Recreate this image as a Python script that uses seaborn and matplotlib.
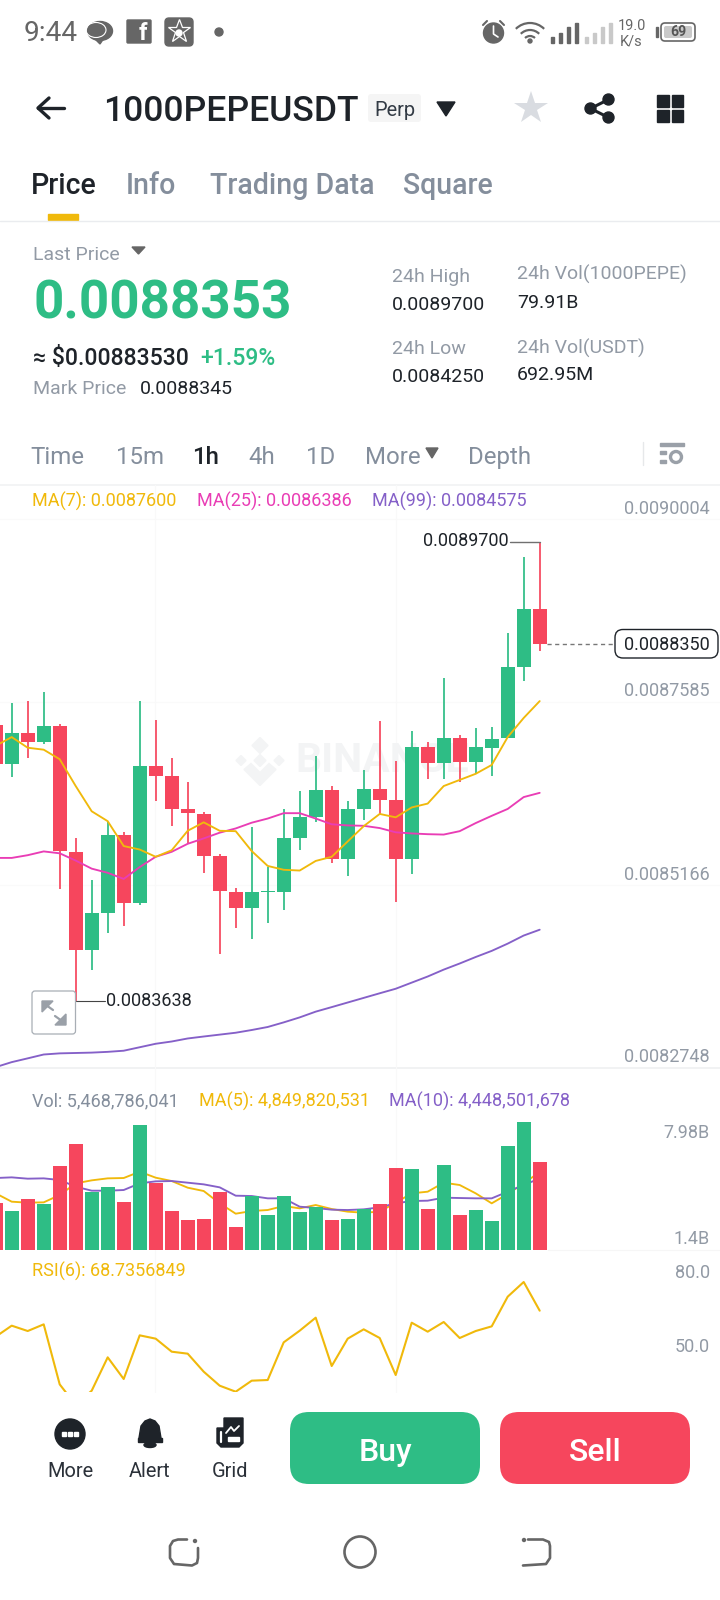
import numpy as np
import pandas as pd
import seaborn as sns
import matplotlib
matplotlib.use("Agg")
import matplotlib.pyplot as plt
from matplotlib.patches import FancyBboxPatch, Polygon, Circle, Ellipse, Rectangle, Arc

sns.set_theme(style="white")
plt.rcParams['font.family'] = ['Roboto', 'DejaVu Sans']

# ---- data (prices in units of 0.001 USDT, volumes in billions) ----
opens = [8.7286,8.6770,8.7175,8.7054,8.7266,8.5606,8.4306,8.4791,8.5829,8.4928,8.6745,8.6613,8.6173,8.6112,8.5550,8.5080,8.4862,8.5070,8.5080,8.5788,8.6067,8.6426,8.5515,8.6173,8.6436,8.6289,8.5505,8.6988,8.6780,8.7114,8.6795,8.6983,8.7109,8.8056,8.8820]
closes = [8.6770,8.7175,8.7054,8.7266,8.5616,8.4306,8.4791,8.5829,8.4928,8.6735,8.6613,8.6178,8.6117,8.5556,8.5085,8.4862,8.5070,8.5090,8.5788,8.6067,8.6426,8.5515,8.6173,8.6436,8.6294,8.5505,8.6988,8.6780,8.7109,8.6795,8.6993,8.7104,8.8056,8.8820,8.8350]
highs = [8.7286,8.7570,8.7600,8.7722,8.7297,8.5793,8.5237,8.6006,8.5869,8.7600,8.7347,8.6846,8.6527,8.6132,8.5581,8.5130,8.5940,8.5409,8.6173,8.6406,8.6871,8.6476,8.6284,8.6689,8.7337,8.6805,8.7205,8.7054,8.7904,8.7155,8.7246,8.7256,8.8506,8.9508,8.9700]
lows = [8.6770,8.6593,8.6851,8.7038,8.5120,8.3638,8.4037,8.4538,8.4619,8.4903,8.6274,8.5945,8.5717,8.5323,8.4255,8.4594,8.4457,8.4670,8.4842,8.5631,8.5996,8.5454,8.5282,8.6031,8.6097,8.4938,8.5318,8.6568,8.6563,8.6527,8.6638,8.6603,8.7109,8.7868,8.8268]
ma7 = [8.7008,8.7124,8.6983,8.6957,8.6831,8.6476,8.6142,8.6011,8.5682,8.5636,8.5540,8.5626,8.5884,8.5996,8.5884,8.5879,8.5616,8.5419,8.5368,8.5358,8.5485,8.5540,8.5743,8.5945,8.6107,8.6062,8.6193,8.6244,8.6476,8.6557,8.6638,8.6755,8.7124,8.7377,8.7600]
ma25 = [8.5525,8.5525,8.5561,8.5611,8.5586,8.5490,8.5383,8.5328,8.5247,8.5404,8.5540,8.5606,8.5712,8.5783,8.5859,8.5915,8.5991,8.6046,8.6117,8.6117,8.6046,8.5970,8.5955,8.5950,8.5920,8.5864,8.5849,8.5839,8.5834,8.5879,8.5986,8.6082,8.6173,8.6330,8.6386]
ma99 = [8.2757,8.2823,8.2873,8.2924,8.2939,8.2944,8.2949,8.2959,8.2974,8.3020,8.3066,8.3096,8.3136,8.3162,8.3187,8.3212,8.3248,8.3288,8.3349,8.3415,8.3491,8.3551,8.3612,8.3673,8.3734,8.3794,8.3875,8.3956,8.4047,8.4128,8.4214,8.4295,8.4391,8.4498,8.4575]
volume = [2.943,2.425,3.192,2.881,5.202,6.570,3.627,3.917,2.964,7.793,4.145,2.425,1.845,1.928,3.606,1.409,3.378,2.156,3.358,2.384,2.694,1.886,1.948,2.570,2.881,5.099,5.037,2.549,5.285,2.176,2.467,1.824,6.467,7.980,5.451]
vol_ma5 = [3.524,3.005,2.943,2.964,3.420,4.145,4.332,4.456,4.477,4.871,4.498,4.290,3.876,3.669,2.902,2.259,2.425,2.487,2.736,2.591,2.798,2.549,2.384,2.321,2.384,2.943,3.524,3.627,4.187,4.042,3.524,2.902,3.482,4.145,4.850]
vol_ma10 = [4.477,4.518,4.436,4.456,4.353,3.938,3.689,3.689,3.731,4.145,4.270,4.290,4.187,4.083,3.897,3.378,3.358,3.213,3.213,2.694,2.612,2.508,2.487,2.529,2.653,2.902,3.047,3.068,3.254,3.233,3.213,3.213,3.627,4.042,4.449]
rsi6 = [58.10,62.61,60.42,63.15,38.59,30.14,36.00,49.65,40.78,58.65,57.29,51.96,51.15,43.78,38.05,35.59,40.10,40.37,55.78,60.56,65.88,46.10,57.29,61.11,57.56,42.41,63.83,60.15,64.11,57.56,60.42,62.33,74.47,80.48,68.74]
price_ticks = [9.0004, 8.7585, 8.5166, 8.2748]
price_labels = ["0.0090004", "0.0087585", "0.0085166", "0.0082748"]

GREEN, RED = "#2EBD85", "#F6465D"
YEL, PINK, PUR = "#F0B90B", "#E93DB5", "#8560C8"
DARK, GREY, MID = "#1E2329", "#929AA5", "#666666"

W, H = 720, 1600
idx = np.arange(len(opens))
XLIM = (1 - 11.7 / 16, 1 + 708.3 / 16)
fig = plt.figure(figsize=(W / 100, H / 100), dpi=100, facecolor="white")

def band(top, bottom, z):
    a = fig.add_axes([0, 1 - bottom / H, 1, (bottom - top) / H], zorder=z)
    a.patch.set_alpha(0)
    a.set_axis_off()
    a.set_xlim(*XLIM)
    return a

bg = fig.add_axes([0, 0, 1, 1], zorder=0); bg.set_xlim(0, W); bg.set_ylim(H, 0); bg.axis("off")
ui = fig.add_axes([0, 0, 1, 1], zorder=5); ui.set_xlim(0, W); ui.set_ylim(H, 0); ui.axis("off"); ui.patch.set_alpha(0)

def t(x, y, s, px=19, c=GREY, ha="left", w="normal", a=ui, **k):
    a.text(x, y + 1.5, s, fontsize=px * 0.72, color=c, ha=ha, va="center", fontweight=w, **k)

def rrect(a, x0, y0, x1, y1, r, **k):
    a.add_patch(FancyBboxPatch((x0 + r, y0 + r), x1 - x0 - 2 * r, y1 - y0 - 2 * r,
                               boxstyle=f"round,pad={r},rounding_size={r}", **k))

# ---- grid, watermark ----
for y in [519.4, 702, 884.9]:
    bg.plot([0, W], [y, y], color="#FAFAFA", lw=0.8)
bg.plot([0, W], [484.5, 484.5], color="#F1F2F3", lw=1.2)
bg.plot([0, W], [1067.8, 1067.8], color="#EFF0F1", lw=1.2)
bg.plot([548, W], [1250, 1250], color="#F6F6F6", lw=0.8)
for x in [155.3, 395.7]:
    bg.plot([x, x], [485, 1392], color="#F9F9F9", lw=0.8)
wm = "#F3F4F5"
cx, cy = 260, 760.5
for dx, dy, s in [(0, -15, 8), (0, 0, 6), (-19, 0, 5), (19, 0, 5)]:
    bg.add_patch(Polygon([(cx + dx - s, cy + dy), (cx + dx, cy + dy - s), (cx + dx + s, cy + dy), (cx + dx, cy + dy + s)], color=wm))
bg.add_patch(Polygon([(cx - 16, cy + 9), (cx - 9, cy + 3), (cx, cy + 12), (cx + 9, cy + 3), (cx + 16, cy + 9), (cx, cy + 25)], color=wm))
t(295, 759, "BINANCE", 41, wm, w="bold", a=bg)

# ---- price panel ----
PX_TOP, PX_BOT = 519.4, 1067.8
ax = band(PX_TOP, PX_BOT, 1)
ax.set_ylim(price_ticks[-1], price_ticks[0])
cols = [GREEN if c >= o else RED for o, c in zip(opens, closes)]
ax.vlines(idx, lows, highs, colors=cols, lw=1.25, zorder=2)
body_b = np.minimum(opens, closes)
body_h = np.abs(np.array(opens) - np.array(closes))
ax.bar(idx, body_h, bottom=body_b, width=0.875, color=cols, zorder=3, linewidth=0)
for vals, col in [(ma99, PUR), (ma25, PINK), (ma7, YEL)]:
    sns.lineplot(x=idx, y=vals, color=col, lw=1.35, ax=ax, legend=False, errorbar=None, zorder=4)
ax.set_xlim(*XLIM); ax.set_ylim(price_ticks[-1], price_ticks[0]); ax.set_axis_off()

# high / low / last markers
hi_i, lo_i = int(np.argmax(highs)), int(np.argmin(lows))
ax.plot([hi_i - 1.85, hi_i], [highs[hi_i]] * 2, color="#707070", lw=1, zorder=5)
ax.plot([lo_i, lo_i + 1.85], [lows[lo_i]] * 2, color="#444444", lw=0.8, zorder=5)
ax.plot([idx[-1] + 0.45, idx[-1] + 4.7], [closes[-1]] * 2, color="#777777", lw=1, ls=(0, (3, 2.5)), zorder=5)
t(509, 540, "0.0089700", 18, DARK, ha="right")
t(106, 999.5, "0.0083638", 18, DARK)
rrect(ui, 615, 629.5, 718, 658, 8, fc="white", ec=DARK, lw=1)
t(710, 644, "0.0088350", 18, DARK, ha="right")

for y, s in zip([507, 690, 873, 1056], price_labels):
    t(710, y, s, 18, GREY, ha="right")
t(32, 499.5, "MA(7): 0.0087600", 18, YEL)
t(197, 499.5, "MA(25): 0.0086386", 18, PINK)
t(372, 499.5, "MA(99): 0.0084575", 18, PUR)

# expand box
rrect(ui, 32, 991, 75.5, 1034, 3, fc="white", ec="#A8AEB5", lw=0.9)
for (x0, y0, sx, sy) in [(42, 1001, 1, 1), (66, 1025, -1, -1)]:
    ui.add_patch(Polygon([(x0, y0), (x0 + 11 * sx, y0), (x0, y0 + 11 * sy)], color="#9AA0A8"))
    ui.plot([x0 + 4 * sx, x0 + 11 * sx], [y0 + 4 * sy, y0 + 9 * sy], color="#9AA0A8", lw=1.6)

# ---- volume panel ----
VOL_BOT, VOL_MAXY = 1250, 1121.7
VOL_TOP = 1105
vx = band(VOL_TOP, VOL_BOT, 1)
vol_top_val = max(volume) * (VOL_BOT - VOL_TOP) / (VOL_BOT - VOL_MAXY)
for vals, col in [(vol_ma5, YEL), (vol_ma10, PUR)]:
    sns.lineplot(x=idx, y=vals, color=col, lw=1.35, ax=vx, legend=False, errorbar=None, zorder=2)
sns.barplot(x=idx, y=volume, hue=cols, palette={GREEN: GREEN, RED: RED}, native_scale=True, dodge=False,
            width=0.875, saturation=1, legend=False, ax=vx, zorder=3, linewidth=0)
vx.set_xlim(*XLIM); vx.set_ylim(0, vol_top_val); vx.set_axis_off()

t(32, 1099.5, "Vol: 5,468,786,041", 18, "#848E9C")
t(199, 1099.5, "MA(5): 4,849,820,531", 18, YEL)
t(389, 1099.5, "MA(10): 4,448,501,678", 18, PUR)
t(710, 1131, "7.98B", 18, GREY, ha="right")
t(710, 1237, "1.4B", 18, GREY, ha="right")

# ---- RSI panel ----
rx = band(1250, 1391.7, 1)
sns.lineplot(x=idx, y=rsi6, color=YEL, lw=1.5, ax=rx, legend=False, errorbar=None)
rx.set_xlim(*XLIM); rx.set_ylim(35.59, 93.57); rx.set_axis_off()
t(32, 1269.5, "RSI(6): 68.7356849", 18, YEL)
t(710, 1271, "80.0", 18, GREY, ha="right")
t(710, 1345, "50.0", 18, GREY, ha="right")

# ---- status bar ----
t(24, 32, "9:44", 28, MID)
ui.add_patch(Ellipse((100, 31), 25, 19, color=MID))
ui.add_patch(Polygon([(94, 38), (104, 38), (100, 44)], color=MID))
ui.add_patch(Ellipse((96, 30), 20, 15, fc="none", ec="white", lw=0.8))
rrect(ui, 127, 20, 151, 43, 1, color=MID)
ui.text(143, 33, "f", color="white", fontsize=17, fontweight="bold", ha="center", va="center")
rrect(ui, 165, 18, 193, 46, 4, color=MID)
ui.plot([179], [31], marker="*", ms=17, mfc="none", mec="white", mew=0.9)
ui.add_patch(Circle((179, 33), 3, color="white"))
ui.add_patch(Circle((219, 32), 4, color=MID))
ui.add_patch(Circle((493.5, 33), 10, color=MID))
ui.plot([493.5, 493.5, 498], [26, 34, 37], color="white", lw=1.2)
ui.plot([483, 487], [25, 21], color=MID, lw=1.5); ui.plot([500, 504], [21, 25], color=MID, lw=1.5)
for r in [7, 13, 20]:
    ui.add_patch(Arc((530, 43), 2 * r, 2 * r, theta1=225, theta2=315, color=MID, lw=1.6))
ui.add_patch(Circle((530, 41), 2, color=MID))
for k, (x0, alpha) in enumerate([(551, MID), (585, "#C9C9C9")]):
    for j, h_ in enumerate([6, 10, 16, 20]):
        ui.add_patch(Rectangle((x0 + j * 8, 43 - h_), 2.5, h_, color=alpha if (k or j < 3) else MID))
t(618, 24, "19.0", 14.5, MID, ha="left")
t(620, 40, "K/s", 14.5, MID, ha="left")
ui.add_patch(Rectangle((656, 27), 2, 10, color=MID))
rrect(ui, 661, 23, 695, 41, 4, fc="white", ec=MID, lw=1.2)
rrect(ui, 664, 26, 692, 38, 2, fc="#C9C9C9", ec="none")
t(678, 31, "69", 14, "#555555", ha="center", w="bold")

# ---- header ----
ui.plot([38, 64], [108, 108], color=DARK, lw=2.4)
ui.plot([49, 38, 49], [98, 108, 118], color=DARK, lw=2.4)
t(103, 110, "1000PEPEUSDT", 35.5, DARK, w="medium")
rrect(ui, 368, 94, 421, 122, 3, fc="#F5F5F5", ec="none")
t(394.5, 109, "Perp", 20, "#333B45", ha="center")
ui.add_patch(Polygon([(437, 102), (455, 102), (446, 116)], color=DARK))
ui.plot([531], [108], marker="*", ms=25, color="#D9DCE1", mew=0)
ui.plot([608.5, 590.5, 608.5], [99.5, 108.5, 117.5], color=DARK, lw=2.2)
for (px_, py_) in [(608.5, 99.5), (590.5, 108.5), (608.5, 117.5)]:
    ui.add_patch(Circle((px_, py_), 5.5, color=DARK))
for (x0, y0) in [(657, 95), (671.5, 95), (657, 110), (671.5, 110)]:
    ui.add_patch(Rectangle((x0, y0), 11.5, 12, color=DARK))

# tabs
t(31, 184.5, "Price", 28.5, DARK, w="medium")
t(126, 184.5, "Info", 28.5, "#848E9C", w="medium")
t(210, 184.5, "Trading Data", 28.5, "#848E9C", w="medium")
t(403, 184.5, "Square", 28.5, "#848E9C", w="medium")
ui.add_patch(Rectangle((48, 214), 30, 6, color=YEL))
ui.plot([0, W], [220.5, 220.5], color="#EAECEF", lw=1)

# stats
t(33, 253, "Last Price", 19.5)
ui.add_patch(Polygon([(132, 247), (145, 247), (138.5, 254)], color=MID))
t(33, 302.5, "0.0088353", 53, GREEN, w="bold")
t(33, 357, "≈ $0.00883530", 23, DARK, w="medium")
t(200, 357, "+1.59%", 23, GREEN, w="medium")
t(33, 388, "Mark Price", 19.5)
t(140, 388, "0.0088345", 19.5, DARK)
t(392, 275, "24h High", 19.5)
t(392, 303, "0.0089700", 19.5, DARK)
t(392, 347, "24h Low", 19.5)
t(392, 376, "0.0084250", 19.5, DARK)
t(517, 273, "24h Vol(1000PEPE)", 19.5)
t(517, 302, "79.91B", 19.5, DARK)
t(517, 347, "24h Vol(USDT)", 19.5)
t(517, 374, "692.95M", 19.5, DARK)

# timeframe row
for x, s in [(30, "Time"), (116, "15m"), (248, "4h"), (306, "1D"), (365, "More"), (468, "Depth")]:
    t(x, 456, s, 24, "#848E9C")
t(192, 456, "1h", 24, DARK, w="medium")
ui.add_patch(Polygon([(426, 448), (438, 448), (432, 458)], color=MID))
ui.plot([643, 643], [442, 465], color="#E6E8EA", lw=1)
ui.add_patch(Rectangle((660, 443), 24, 3, color="#9AA0A8"))
ui.add_patch(Rectangle((660, 451), 6, 3, color="#9AA0A8"))
ui.add_patch(Rectangle((660, 460), 6, 3, color="#9AA0A8"))
ui.add_patch(Circle((676, 457), 5.5, fc="white", ec="#9AA0A8", lw=2.4))

# ---- bottom bar ----
ui.add_patch(Circle((70, 1434), 15, color=DARK))
for dx in [-6, 0, 6]:
    ui.add_patch(Rectangle((70 + dx - 1.7, 1432.3), 3.4, 3.4, color="white"))
ui.add_patch(Polygon([(139, 1438), (141, 1426), (145, 1421), (150, 1419), (155, 1421), (159, 1426), (161, 1438)], color=DARK))
ui.add_patch(Rectangle((138, 1438), 24, 4, color=DARK))
ui.add_patch(Ellipse((150, 1445), 12, 5, color=DARK))
ui.add_patch(Polygon([(224, 1418), (243, 1418), (243, 1443), (239, 1447), (221, 1447), (217, 1443), (217, 1428), (224, 1428)], color=DARK))
ui.plot([221, 221], [1432, 1442], color="white", lw=1.6)
ui.plot([226, 231, 234, 239], [1433, 1427, 1431, 1426], color="white", lw=1.3)
ui.add_patch(Rectangle((228, 1437), 11, 4, color="white"))
t(70, 1470, "More", 20, "#2B3139", ha="center")
t(150, 1470, "Alert", 20, "#2B3139", ha="center")
t(230, 1470, "Grid", 20, "#2B3139", ha="center")
rrect(ui, 290, 1412, 480, 1484, 19, fc=GREEN, ec="none")
rrect(ui, 500, 1412, 690, 1484, 19, fc=RED, ec="none")
t(385, 1451, "Buy", 32, "white", ha="center", w="medium")
t(595, 1451, "Sell", 32, "white", ha="center", w="medium")

# nav buttons
NAV = "#666666"
ui.plot([187, 178, 173, 170, 170, 174, 192, 197, 198, 198],
        [1539.5, 1539.5, 1541, 1546, 1558, 1564, 1565.5, 1563, 1558, 1548], color=NAV, lw=1.9)
ui.add_patch(Circle((195, 1541), 1.5, color=NAV))
ui.add_patch(Ellipse((360, 1552), 31, 31, fc="none", ec=NAV, lw=1.9))
ui.plot([528, 543, 549, 550, 550, 546, 523],
        [1539.5, 1539.5, 1542, 1546, 1558, 1564, 1565.5], color=NAV, lw=1.9)
ui.add_patch(Circle((524, 1540), 1.5, color=NAV))

fig.savefig("out.png", dpi=100, facecolor="white")
